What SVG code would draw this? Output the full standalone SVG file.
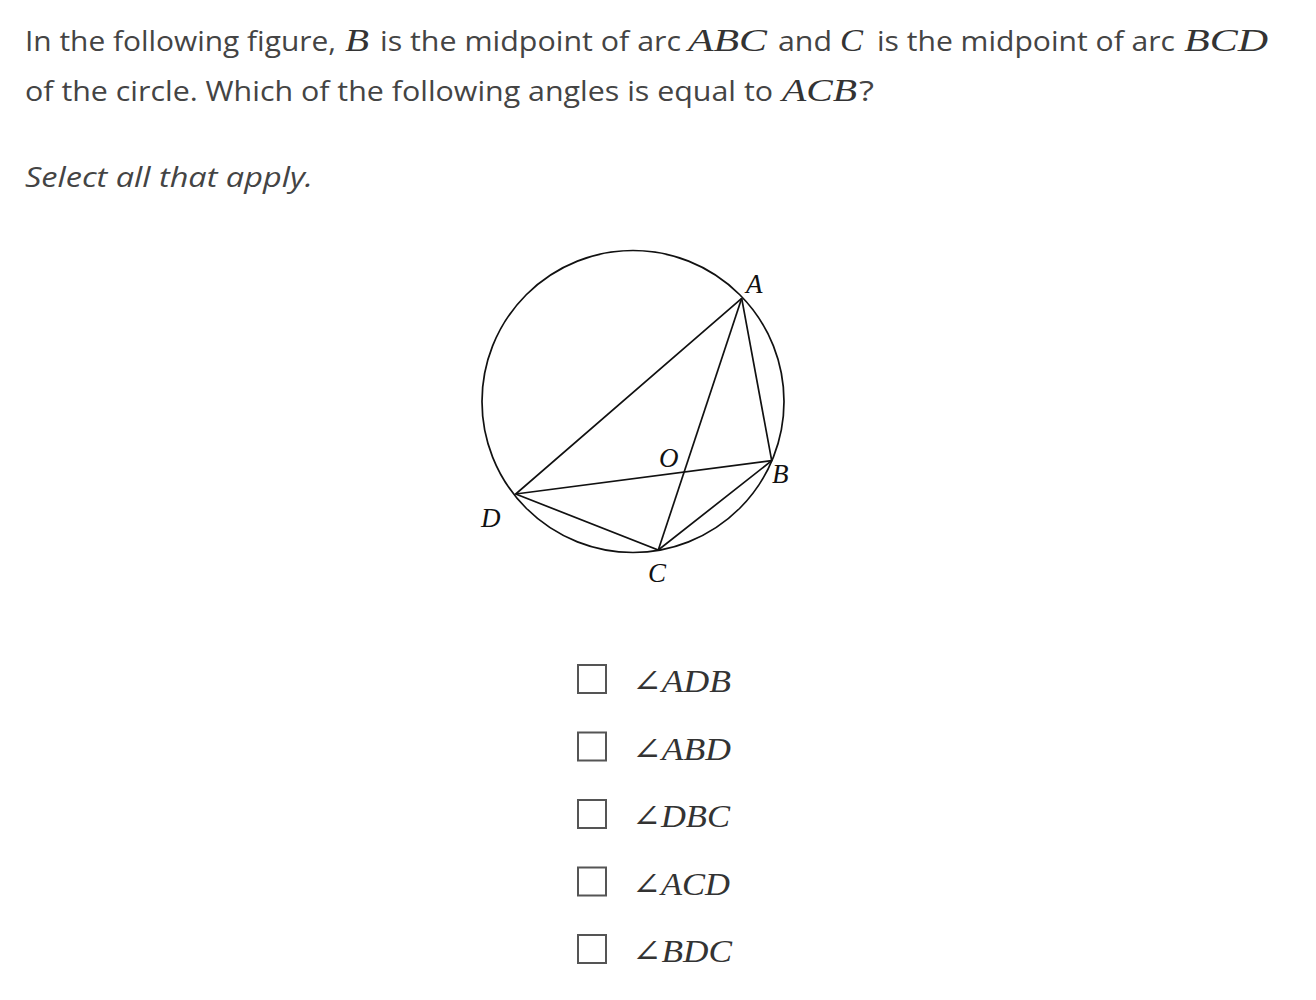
<svg xmlns="http://www.w3.org/2000/svg" width="1316" height="1000" viewBox="0 0 1316 1000">
<style>
.t{font-family:"Open Sans","Noto Sans",sans-serif;font-size:28px;fill:#444}
.ti{font-family:"Open Sans","Noto Sans",sans-serif;font-size:28px;fill:#444;font-style:italic}
.m{font-family:"Liberation Serif","DejaVu Serif",serif;font-style:italic;font-size:32px;fill:#333}
.lbl{font-family:"Liberation Serif","DejaVu Serif",serif;font-style:italic;font-size:27px;fill:#111}
.ln{stroke:#111;stroke-width:1.7;fill:none}
.cb{fill:#fff;stroke:#555;stroke-width:2}
</style>
<rect width="1316" height="1000" fill="#fff"/>
<g id="question">
<text class="t" x="25" y="51" textLength="311" lengthAdjust="spacingAndGlyphs">In the following figure,</text>
<text class="m" x="345" y="51" textLength="24" lengthAdjust="spacingAndGlyphs">B</text>
<text class="t" x="380" y="51" textLength="301" lengthAdjust="spacingAndGlyphs">is the midpoint of arc</text>
<text class="m" x="688" y="51" textLength="79" lengthAdjust="spacingAndGlyphs">ABC</text>
<text class="t" x="778" y="51" textLength="54" lengthAdjust="spacingAndGlyphs">and</text>
<text class="m" x="840" y="51" textLength="23" lengthAdjust="spacingAndGlyphs">C</text>
<text class="t" x="877" y="51" textLength="298" lengthAdjust="spacingAndGlyphs">is the midpoint of arc</text>
<text class="m" x="1184" y="51" textLength="84" lengthAdjust="spacingAndGlyphs">BCD</text>
<text class="t" x="25" y="101" textLength="748" lengthAdjust="spacingAndGlyphs">of the circle. Which of the following angles is equal to</text>
<text class="m" x="782" y="101" textLength="75" lengthAdjust="spacingAndGlyphs">ACB</text>
<text class="t" x="859" y="101" textLength="15" lengthAdjust="spacingAndGlyphs">?</text>
<text class="ti" x="25" y="187" textLength="288" lengthAdjust="spacingAndGlyphs">Select all that apply.</text>
</g>
<g id="figure">
<circle class="ln" cx="633" cy="401.5" r="151"/>
<g id="edges">
<polyline class="ln" points="741.7,298.3 771.7,460.7 658.3,550 515.7,494 741.7,298.3"/>
<line class="ln" x1="741.7" y1="298.3" x2="658.3" y2="550"/>
<line class="ln" x1="515.7" y1="494" x2="771.7" y2="460.7"/>
</g>
<g id="labels">
<text class="lbl" x="746" y="293">A</text>
<text class="lbl" x="772" y="483">B</text>
<text class="lbl" x="648" y="582">C</text>
<text class="lbl" x="481" y="527">D</text>
<text class="lbl" x="659" y="467">O</text>
</g>
</g>
<g id="options">
<g id="opt1"><rect class="cb" x="578" y="665" width="28" height="28"/><text class="m" x="632" y="692" textLength="99" lengthAdjust="spacingAndGlyphs">∠ADB</text></g>
<g id="opt2"><rect class="cb" x="578" y="732.5" width="28" height="28"/><text class="m" x="632" y="759.5" textLength="99" lengthAdjust="spacingAndGlyphs">∠ABD</text></g>
<g id="opt3"><rect class="cb" x="578" y="800" width="28" height="28"/><text class="m" x="632" y="827" textLength="98" lengthAdjust="spacingAndGlyphs">∠DBC</text></g>
<g id="opt4"><rect class="cb" x="578" y="867.5" width="28" height="28"/><text class="m" x="632" y="894.5" textLength="98" lengthAdjust="spacingAndGlyphs">∠ACD</text></g>
<g id="opt5"><rect class="cb" x="578" y="935" width="28" height="28"/><text class="m" x="632" y="962" textLength="100" lengthAdjust="spacingAndGlyphs">∠BDC</text></g>
</g>
</svg>
